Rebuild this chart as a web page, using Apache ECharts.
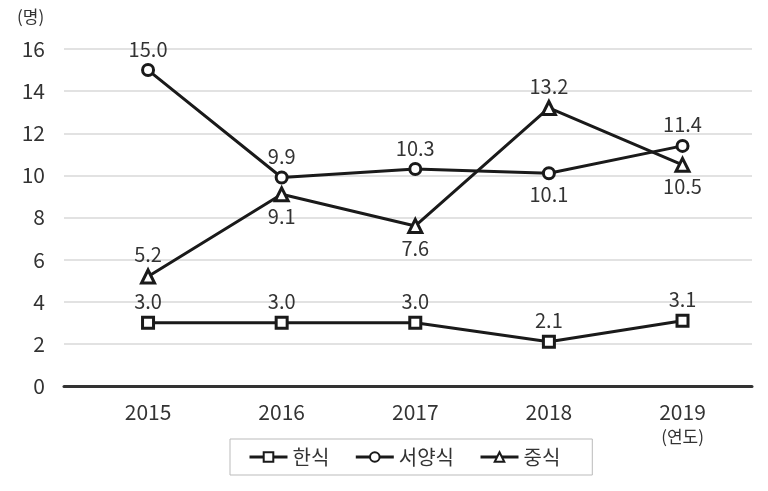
<!DOCTYPE html>
<html>
<head>
<meta charset="utf-8">
<script src="https://cdn.jsdelivr.net/npm/echarts@6/dist/echarts.min.js"></script>
<style>
  html, body { margin: 0; padding: 0; background: #fff; }
  #chart { width: 768px; height: 491px; }
</style>
</head>
<body>
<div id="chart"></div>
<script>
var years = [2015, 2016, 2017, 2018, 2019];
var hansik = [3.0, 3.0, 3.0, 2.1, 3.1];
var western = [15.0, 9.9, 10.3, 10.1, 11.4];
var chinese = [5.2, 9.1, 7.6, 13.2, 10.5];
// label side per point
var hansikPos = ['top', 'top', 'top', 'top', 'top'];
var westernPos = ['top', 'top', 'top', 'bottom', 'top'];
var chinesePos = ['top', 'bottom', 'bottom', 'top', 'bottom'];

var font = '"Noto Sans CJK KR", "Noto Sans", sans-serif';

function pts(vals, pos) {
    return vals.map(function (v, i) {
        return {
            value: [years[i], v],
            label: { position: pos[i] }
        };
    });
}

function makeSeries(name, vals, pos, symbol, size) {
    return {
        name: name,
        type: 'line',
        data: pts(vals, pos),
        symbol: symbol,
        symbolSize: size,
        showAllSymbol: true,
        lineStyle: { color: '#1a1a1a', width: 3 },
        itemStyle: { color: '#fff', borderColor: '#1a1a1a', borderWidth: 3 },
        label: {
            show: true,
            distance: 4,
            fontFamily: font,
            fontSize: 20,
            color: '#333',
            formatter: function (p) { return p.value[1].toFixed(1); }
        },
        emphasis: { disabled: true },
        animation: false
    };
}

var chart = echarts.init(document.getElementById('chart'));
chart.setOption({
    backgroundColor: '#fff',
    grid: { left: 64, right: 16, top: 49, bottom: 105 },
    xAxis: {
        type: 'value',
        min: 2014.371,
        max: 2019.52,
        splitLine: { show: false },
        axisTick: { show: false },
        axisLine: { lineStyle: { color: '#333', width: 3 } },
        axisLabel: {
            customValues: years,
            margin: 13,
            fontFamily: font,
            fontSize: 21,
            color: '#333',
            lineHeight: 26,
            formatter: function (v) {
                return v === 2019 ? '2019\n{u|(연도)}' : String(v);
            },
            rich: {
                u: { fontFamily: font, fontSize: 17, color: '#333', lineHeight: 24 }
            }
        }
    },
    yAxis: {
        type: 'value',
        min: 0,
        max: 16,
        interval: 2,
        axisLine: { show: false },
        axisTick: { show: false },
        splitLine: { lineStyle: { color: '#d9d9d9', width: 1.5 } },
        axisLabel: {
            margin: 19,
            fontFamily: font,
            fontSize: 21,
            color: '#333'
        }
    },
    graphic: [{
        type: 'text',
        left: 17,
        top: 8,
        style: { text: '(명)', fontFamily: font, fontSize: 17, fill: '#333' }
    }],
    legend: {
        bottom: 16,
        left: 230,
        borderColor: '#bbb',
        borderWidth: 1,
        padding: [8, 32, 8, 18],
        itemGap: 25,
        itemWidth: 38,
        itemHeight: 12,
        lineStyle: { width: 3 },
        textStyle: { fontFamily: font, fontSize: 20, color: '#333' },
        data: ['한식', '서양식', '중식']
    },
    series: [
        makeSeries('한식', hansik, hansikPos, 'rect', 11),
        makeSeries('서양식', western, westernPos, 'circle', 11),
        makeSeries('중식', chinese, chinesePos, 'triangle', 13)
    ]
});
</script>
</body>
</html>
